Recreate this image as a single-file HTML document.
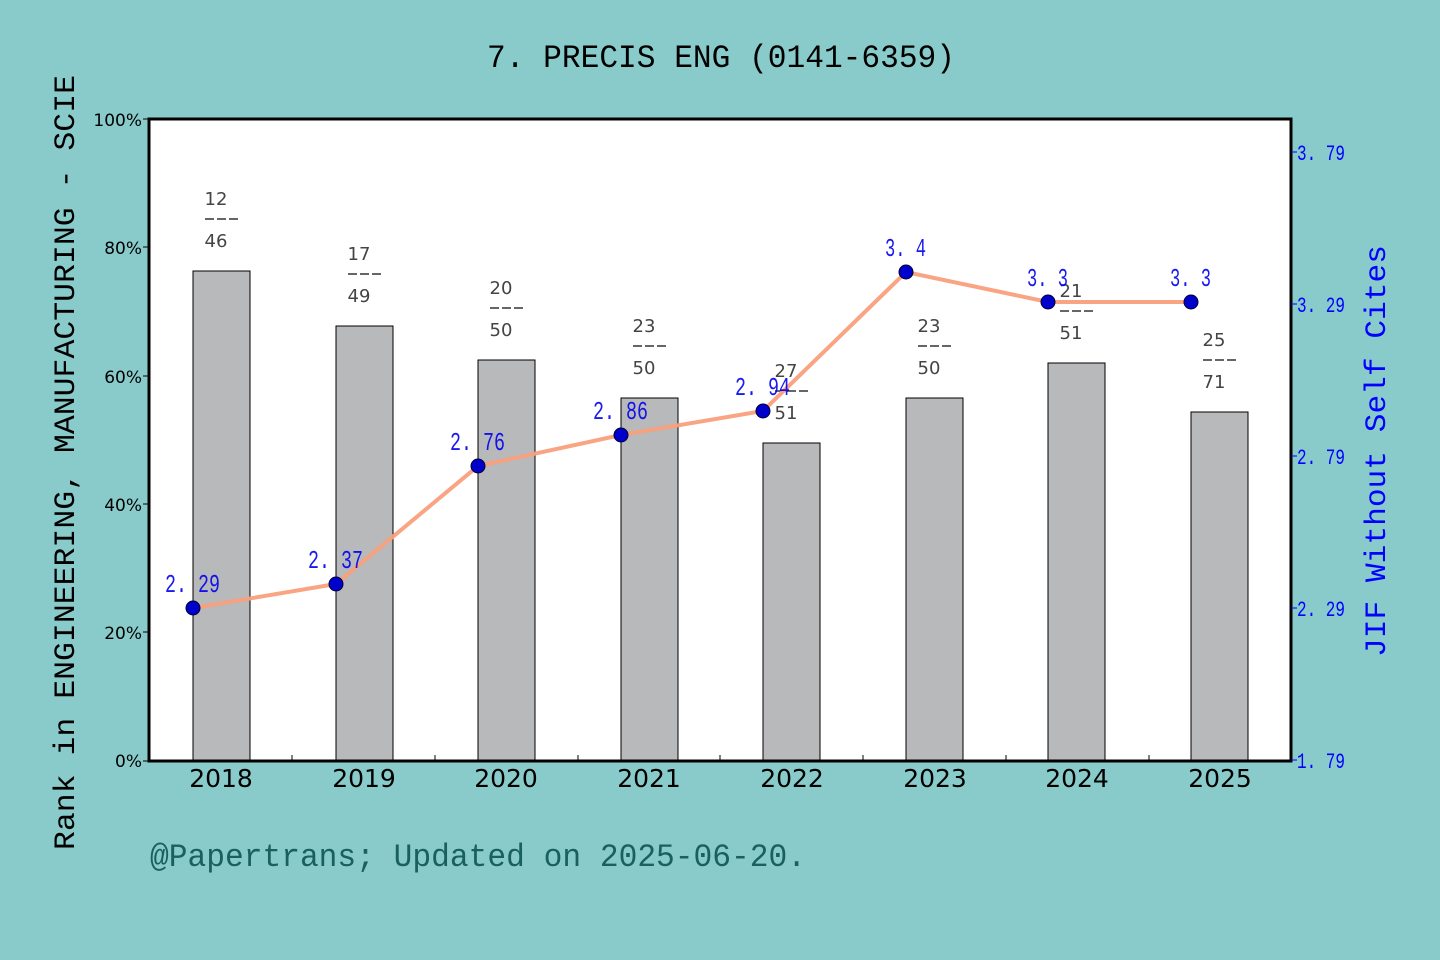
<!DOCTYPE html>
<html><head><meta charset="utf-8"><style>
html,body{margin:0;padding:0;background:#88cbca;}
svg{display:block;}
text{font-family:"Liberation Mono",monospace;}
.s text{font-family:"DejaVu Sans","Liberation Sans",sans-serif;}
</style></head><body>
<svg width="1440" height="960" viewBox="0 0 1440 960" xmlns="http://www.w3.org/2000/svg">
<rect x="0" y="0" width="1440" height="960" fill="#88cbca"/>
<text x="487" y="67" font-size="32" fill="#000" textLength="468" lengthAdjust="spacingAndGlyphs">7. PRECIS ENG (0141-6359)</text>
<rect x="149" y="119" width="1142" height="642" fill="#fff"/>
<g fill="#b8b9bb" stroke="#000" stroke-width="1">
<rect x="193" y="271" width="57" height="490"/>
<rect x="336" y="326" width="57" height="435"/>
<rect x="478" y="360" width="57" height="401"/>
<rect x="621" y="398" width="57" height="363"/>
<rect x="763" y="443" width="57" height="318"/>
<rect x="906" y="398" width="57" height="363"/>
<rect x="1048" y="363" width="57" height="398"/>
<rect x="1191" y="412" width="57" height="349"/>
</g>
<g stroke="#666" stroke-width="2" stroke-dasharray="9,3">
<line x1="205" y1="219" x2="238" y2="219"/>
<line x1="348" y1="274" x2="381" y2="274"/>
<line x1="490" y1="308" x2="523" y2="308"/>
<line x1="633" y1="346" x2="666" y2="346"/>
<line x1="775" y1="391" x2="808" y2="391"/>
<line x1="918" y1="346" x2="951" y2="346"/>
<line x1="1060" y1="311" x2="1093" y2="311"/>
<line x1="1203" y1="360" x2="1236" y2="360"/>
</g>
<g class="s" font-size="18" fill="#444" text-anchor="middle">
<text x="216" y="205">12</text><text x="216" y="247">46</text>
<text x="359" y="260">17</text><text x="359" y="302">49</text>
<text x="501" y="294">20</text><text x="501" y="336">50</text>
<text x="644" y="332">23</text><text x="644" y="374">50</text>
<text x="786" y="377">27</text><text x="786" y="419">51</text>
<text x="929" y="332">23</text><text x="929" y="374">50</text>
<text x="1071" y="297">21</text><text x="1071" y="339">51</text>
<text x="1214" y="346">25</text><text x="1214" y="388">71</text>
</g>
<polyline points="193,608 336,584 478,466 621,435 763,411 906,272 1048,302 1191,302" fill="none" stroke="#f99f7c" stroke-width="4" opacity="0.95"/>
<g fill="#0000cc" stroke="#000030" stroke-width="1">
<circle cx="193" cy="608" r="7"/><circle cx="336" cy="584" r="7"/><circle cx="478" cy="466" r="7"/><circle cx="621" cy="435" r="7"/><circle cx="763" cy="411" r="7"/><circle cx="906" cy="272" r="7"/><circle cx="1048" cy="302" r="7"/><circle cx="1191" cy="302" r="7"/>
</g>
<g font-size="26" fill="#0000ee" fill-opacity="0.9">
<text x="165" y="592" textLength="55" lengthAdjust="spacingAndGlyphs">2. 29</text>
<text x="308" y="568" textLength="55" lengthAdjust="spacingAndGlyphs">2. 37</text>
<text x="450" y="450" textLength="55" lengthAdjust="spacingAndGlyphs">2. 76</text>
<text x="593" y="419" textLength="55" lengthAdjust="spacingAndGlyphs">2. 86</text>
<text x="735" y="395" textLength="55" lengthAdjust="spacingAndGlyphs">2. 94</text>
<text x="885" y="256" textLength="41" lengthAdjust="spacingAndGlyphs">3. 4</text>
<text x="1027" y="286" textLength="41" lengthAdjust="spacingAndGlyphs">3. 3</text>
<text x="1170" y="286" textLength="41" lengthAdjust="spacingAndGlyphs">3. 3</text>
</g>
<rect x="149" y="119" width="1142" height="642" fill="none" stroke="#000" stroke-width="3"/>
<g stroke="#000" stroke-width="1">
<line x1="143" y1="119" x2="149" y2="119"/><line x1="143" y1="247" x2="149" y2="247"/><line x1="143" y1="376" x2="149" y2="376"/><line x1="143" y1="504" x2="149" y2="504"/><line x1="143" y1="632" x2="149" y2="632"/><line x1="143" y1="761" x2="149" y2="761"/>
<line x1="292" y1="755" x2="292" y2="761"/><line x1="435" y1="755" x2="435" y2="761"/><line x1="578" y1="755" x2="578" y2="761"/><line x1="720" y1="755" x2="720" y2="761"/><line x1="863" y1="755" x2="863" y2="761"/><line x1="1006" y1="755" x2="1006" y2="761"/><line x1="1149" y1="755" x2="1149" y2="761"/>
</g>
<g stroke="#0000ff" stroke-width="1">
<line x1="1291" y1="152" x2="1297" y2="152"/><line x1="1291" y1="304" x2="1297" y2="304"/><line x1="1291" y1="456" x2="1297" y2="456"/><line x1="1291" y1="608" x2="1297" y2="608"/><line x1="1291" y1="760" x2="1297" y2="760"/>
</g>
<g class="s" font-size="17" fill="#000" text-anchor="end">
<text x="142" y="126">100%</text><text x="142" y="254">80%</text><text x="142" y="383">60%</text><text x="142" y="511">40%</text><text x="142" y="639">20%</text><text x="142" y="767">0%</text>
</g>
<g font-size="22" fill="#0000ff">
<text x="1297" y="160" textLength="48" lengthAdjust="spacingAndGlyphs">3. 79</text>
<text x="1297" y="312" textLength="48" lengthAdjust="spacingAndGlyphs">3. 29</text>
<text x="1297" y="464" textLength="48" lengthAdjust="spacingAndGlyphs">2. 79</text>
<text x="1297" y="616" textLength="48" lengthAdjust="spacingAndGlyphs">2. 29</text>
<text x="1297" y="768" textLength="48" lengthAdjust="spacingAndGlyphs">1. 79</text>
</g>
<g class="s" font-size="25" fill="#000" text-anchor="middle">
<text x="221" y="787">2018</text><text x="364" y="787">2019</text><text x="506" y="787">2020</text><text x="649" y="787">2021</text><text x="792" y="787">2022</text><text x="935" y="787">2023</text><text x="1077" y="787">2024</text><text x="1220" y="787">2025</text>
</g>
<text transform="translate(74,850) rotate(-90)" font-size="30" fill="#000" textLength="775" lengthAdjust="spacingAndGlyphs">Rank in ENGINEERING, MANUFACTURING - SCIE</text>
<text transform="translate(1385,657) rotate(-90)" font-size="30" fill="#0000ff" textLength="412" lengthAdjust="spacingAndGlyphs">JIF Without Self Cites</text>
<text x="150" y="866" font-size="32" fill="#1a6060" textLength="656" lengthAdjust="spacingAndGlyphs">@Papertrans; Updated on 2025-06-20.</text>
</svg>
</body></html>
